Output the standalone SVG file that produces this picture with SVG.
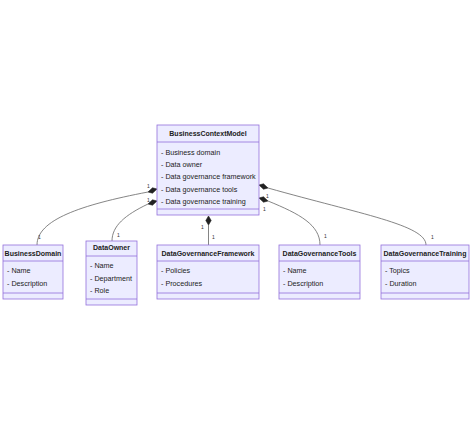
<svg xmlns="http://www.w3.org/2000/svg" width="474" height="431" viewBox="0 0 474 431">
<style>
.box{fill:#ECECFF;stroke:#9370DB;stroke-width:0.8}
.div{stroke:#9370DB;stroke-width:0.8}
.t{font-family:"Liberation Sans",Arial,sans-serif;font-size:7px;fill:#222;font-weight:bold;text-anchor:middle}
.a{font-family:"Liberation Sans",Arial,sans-serif;font-size:7.2px;fill:#222}
.e{fill:none;stroke:#666;stroke-width:0.8}
.d{fill:#222;stroke:#222;stroke-width:0.6}
.c{font-family:"Liberation Sans",Arial,sans-serif;font-size:5px;fill:#333}
</style>
<rect width="474" height="431" fill="#fff"/>
<g id="connectors">
<path class="e" d="M148,192 C80,205 37,220 37,245"/>
<polygon class="d" points="157,189 152.5,187.8 148,192 152.5,193.2"/>
<path class="e" d="M148,204 C125,215 112,226 112,241"/>
<polygon class="d" points="157,201 152.5,199.8 148,204 152.5,205.2"/>
<path class="e" d="M208.5,225 L208.5,245"/>
<polygon class="d" points="208.5,216 211.2,220.5 208.5,225 205.8,220.5"/>
<path class="e" d="M268,201 C300,214 320,225 320,245"/>
<polygon class="d" points="259,198 263.5,196.8 268,201 263.5,202.2"/>
<path class="e" d="M268,188 C360,214 426,225 426,245"/>
<polygon class="d" points="259,185 263.5,183.8 268,188 263.5,189.2"/>
<text class="c" x="147" y="188">1</text>
<text class="c" x="147" y="202">1</text>
<text class="c" x="38" y="239">1</text>
<text class="c" x="117" y="237">1</text>
<text class="c" x="201" y="229">1</text>
<text class="c" x="212" y="239">1</text>
<text class="c" x="266" y="198">1</text>
<text class="c" x="263" y="211">1</text>
<text class="c" x="324" y="238">1</text>
<text class="c" x="431" y="239">1</text>
</g>
<g id="BusinessContextModel">
<rect class="box" x="157" y="125" width="102" height="90"/>
<line class="div" x1="157" y1="142" x2="259" y2="142"/>
<line class="div" x1="157" y1="209" x2="259" y2="209"/>
<text class="t" x="208" y="136">BusinessContextModel</text>
<text class="a" x="161" y="154.5">- Business domain</text>
<text class="a" x="161" y="166.5">- Data owner</text>
<text class="a" x="161" y="179">- Data governance framework</text>
<text class="a" x="161" y="191.5">- Data governance tools</text>
<text class="a" x="161" y="203.5">- Data governance training</text>
</g>
<g id="BusinessDomain">
<rect class="box" x="3" y="245" width="60" height="54"/>
<line class="div" x1="3" y1="261" x2="63" y2="261"/>
<line class="div" x1="3" y1="293" x2="63" y2="293"/>
<text class="t" x="33" y="255.5">BusinessDomain</text>
<text class="a" x="7" y="272.5">- Name</text>
<text class="a" x="7" y="286">- Description</text>
</g>
<g id="DataOwner">
<rect class="box" x="86" y="241" width="51" height="64"/>
<line class="div" x1="86" y1="256" x2="137" y2="256"/>
<line class="div" x1="86" y1="299" x2="137" y2="299"/>
<text class="t" x="111.5" y="250">DataOwner</text>
<text class="a" x="90" y="267.5">- Name</text>
<text class="a" x="90" y="280.5">- Department</text>
<text class="a" x="90" y="292.5">- Role</text>
</g>
<g id="DataGovernanceFramework">
<rect class="box" x="157" y="245" width="102" height="54"/>
<line class="div" x1="157" y1="261" x2="259" y2="261"/>
<line class="div" x1="157" y1="293" x2="259" y2="293"/>
<text class="t" x="208" y="255.5">DataGovernanceFramework</text>
<text class="a" x="161" y="272.5">- Policies</text>
<text class="a" x="161" y="286">- Procedures</text>
</g>
<g id="DataGovernanceTools">
<rect class="box" x="279" y="245" width="81" height="54"/>
<line class="div" x1="279" y1="261" x2="360" y2="261"/>
<line class="div" x1="279" y1="293" x2="360" y2="293"/>
<text class="t" x="319.5" y="255.5">DataGovernanceTools</text>
<text class="a" x="283" y="272.5">- Name</text>
<text class="a" x="283" y="286">- Description</text>
</g>
<g id="DataGovernanceTraining">
<rect class="box" x="381" y="245" width="88" height="54"/>
<line class="div" x1="381" y1="261" x2="469" y2="261"/>
<line class="div" x1="381" y1="293" x2="469" y2="293"/>
<text class="t" x="425" y="255.5">DataGovernanceTraining</text>
<text class="a" x="385" y="272.5">- Topics</text>
<text class="a" x="385" y="286">- Duration</text>
</g>
</svg>
